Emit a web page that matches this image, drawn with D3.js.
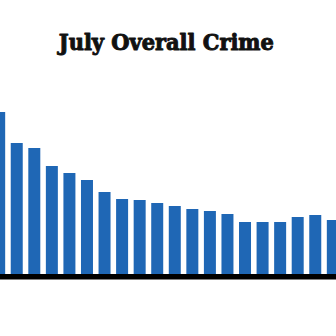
<!DOCTYPE html>
<html><head><meta charset="utf-8">
<script src="https://cdn.jsdelivr.net/npm/d3@7"></script>
<style>html,body{margin:0;padding:0;background:#fff;}svg{display:block;}</style>
</head><body>
<script>
const categories = ["1","2","3","4","5","6","7","8","9","10","11","12","13","14","15","16","17","18","19","20"];
const values = [162,131,126,108,101,94,82,75,74,71,68,65,63,60,52,52,52,57,59,54];
const title = "July Overall Crime";

const W = 336, H = 336;
const svg = d3.select("body").append("svg").attr("width", W).attr("height", H);

const x = d3.scaleBand().domain(categories).range([-9.6, 341.6]).paddingInner(0.317).paddingOuter(0.1585);
const y = d3.scaleLinear().domain([0, 162]).range([274, 112]);

svg.append("g").selectAll("rect").data(values).join("rect")
  .attr("x", (d,i) => x(categories[i]))
  .attr("width", x.bandwidth())
  .attr("y", d => y(d))
  .attr("height", d => y(0) - y(d))
  .attr("fill", "#1f67b5");

svg.append("rect").attr("x", 0).attr("width", W).attr("y", y(0)).attr("height", 5.5).attr("fill", "#000");

svg.append("text").attr("x", 166.3).attr("y", 49.5).attr("text-anchor", "middle")
  .attr("font-family", "DejaVu Serif").attr("font-weight", "bold").attr("font-size", 22)
  .attr("textLength", 215).attr("lengthAdjust", "spacingAndGlyphs")
  .attr("stroke", "#111").attr("stroke-width", 1).attr("stroke-linejoin", "round")
  .attr("fill", "#111").text(title);
</script>
</body></html>
